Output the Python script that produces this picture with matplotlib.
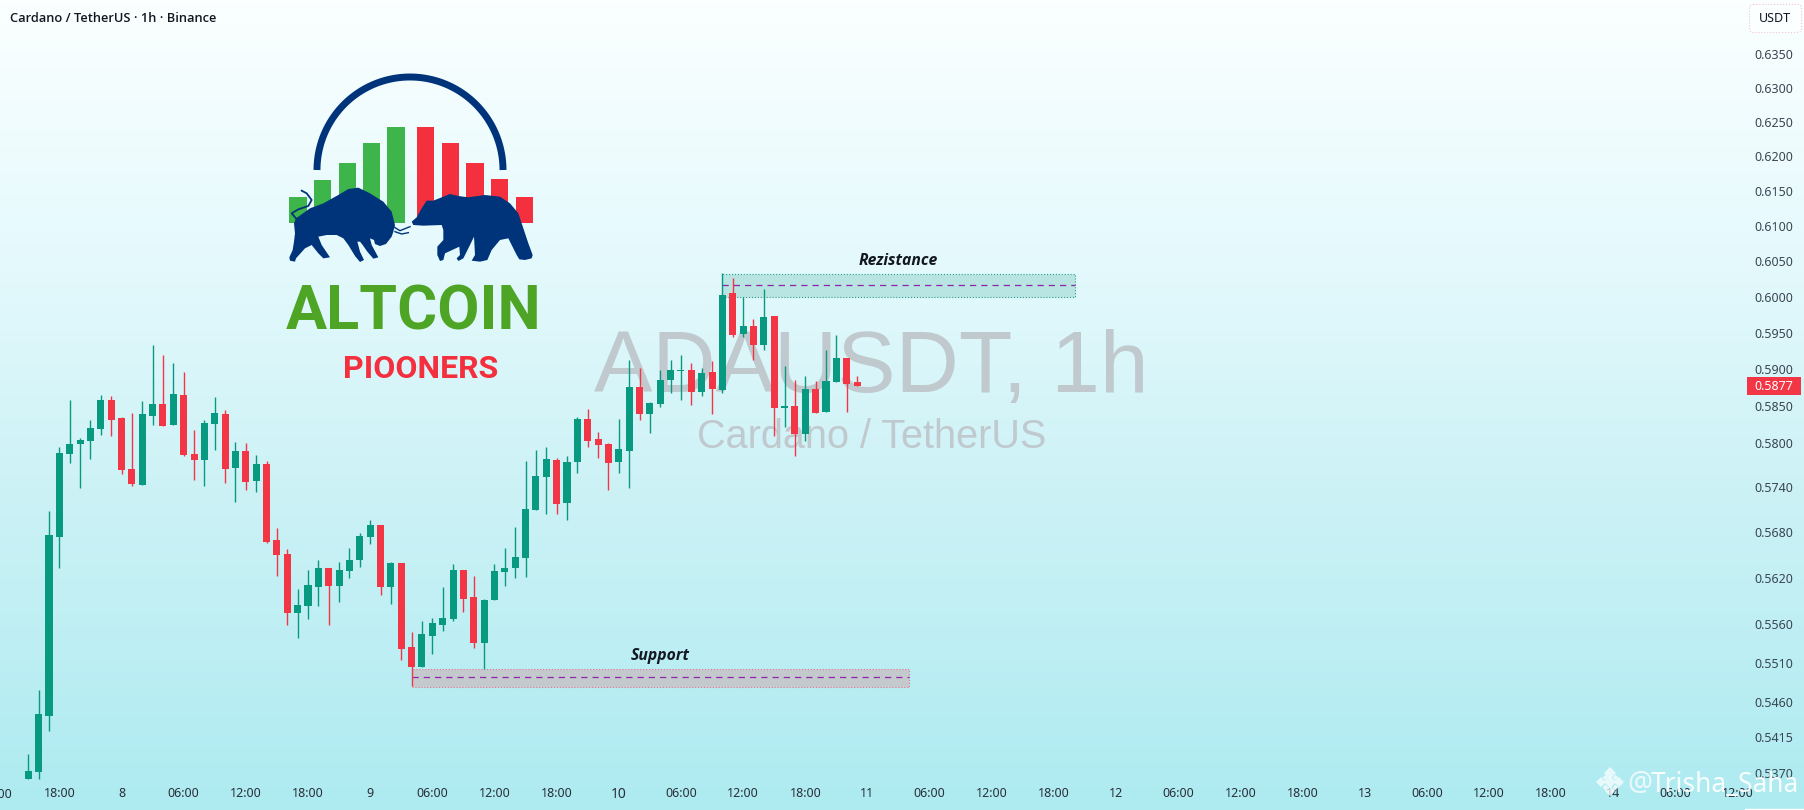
import numpy as np
import matplotlib
matplotlib.use("Agg")
import matplotlib.pyplot as plt
from matplotlib.colors import LinearSegmentedColormap
from matplotlib.patches import Rectangle, Polygon, FancyBboxPatch
from matplotlib.ticker import NullLocator, NullFormatter

# ADAUSDT 1h candles
opens = [.5363, .5371, .5442, .5674, .5785, .5798, .5802, .5818, .5858, .5833,
         .5764, .5743, .5836, .5852, .5824, .5865, .5785, .5777, .5825, .5839,
         .5766, .5789, .5748, .5771, .5670, .5651, .5574, .5583, .5608, .5633,
         .5609, .5629, .5643, .5674, .5690, .5608, .5639, .5530, .5504, .5544,
         .5559, .5566, .5630, .5595, .5535, .5591, .5628, .5633, .5646, .5710,
         .5754, .5777, .5719, .5774, .5832, .5805, .5798, .5774, .5789, .5876,
         .5838, .5852, .5885, .5898, .5899, .5869, .5896, .5872, .6005, .5949,
         .5960, .5933, .5974, .5847, .5850, .5812, .5873, .5842, .5883, .5916, .5883]
highs = [.5394, .5475, .5708, .5794, .5858, .5806, .5831, .5865, .5863, .5835,
         .5840, .5857, .5933, .5920, .5909, .5896, .5817, .5831, .5862, .5844,
         .5801, .5799, .5783, .5775, .5686, .5658, .5605, .5630, .5643, .5633,
         .5641, .5659, .5679, .5696, .5690, .5641, .5639, .5549, .5564, .5568,
         .5608, .5638, .5630, .5622, .5592, .5638, .5659, .5687, .5775, .5790,
         .5794, .5779, .5782, .5835, .5846, .5814, .5799, .5832, .5913, .5902,
         .5855, .5899, .5913, .5920, .5909, .5902, .5911, .6033, .6026, .6000,
         .5970, .6011, .5974, .5905, .5885, .5891, .5884, .5927, .5947, .5916, .5891]
lows = [.5363, .5363, .5423, .5633, .5772, .5739, .5778, .5810, .5809, .5758,
        .5742, .5743, .5824, .5823, .5824, .5782, .5750, .5742, .5790, .5746,
        .5720, .5736, .5734, .5666, .5622, .5559, .5542, .5566, .5583, .5559,
        .5589, .5620, .5634, .5664, .5598, .5586, .5513, .5480, .5504, .5521,
        .5551, .5564, .5575, .5529, .5502, .5591, .5609, .5620, .5621, .5710,
        .5704, .5704, .5696, .5759, .5794, .5779, .5736, .5759, .5739, .5831,
        .5813, .5848, .5867, .5858, .5851, .5863, .5839, .5867, .5945, .5945,
        .5913, .5927, .5809, .5821, .5782, .5802, .5840, .5842, .5883, .5842, .5877]
closes = [.5373, .5444, .5676, .5786, .5798, .5804, .5820, .5858, .5831, .5763,
          .5744, .5838, .5852, .5823, .5866, .5783, .5777, .5827, .5840, .5764,
          .5789, .5747, .5771, .5667, .5650, .5574, .5585, .5611, .5633, .5609,
          .5630, .5643, .5675, .5690, .5608, .5639, .5528, .5504, .5547, .5561,
          .5568, .5630, .5592, .5535, .5591, .5629, .5633, .5647, .5711, .5755,
          .5778, .5718, .5774, .5832, .5802, .5797, .5772, .5791, .5876, .5839,
          .5854, .5885, .5899, .5899, .5869, .5895, .5873, .6003, .5947, .5960,
          .5933, .5972, .5847, .5850, .5812, .5873, .5840, .5884, .5916, .5880, .5877]

price_ticks = [0.6350, 0.6300, 0.6250, 0.6200, 0.6150, 0.6100, 0.6050, 0.6000, 0.5950, 0.5900,
               0.5850, 0.5800, 0.5740, 0.5680, 0.5620, 0.5560, 0.5510, 0.5460, 0.5415, 0.5370]
time_ticks = list(range(3, 166, 6))
time_labels = ["18:00", "8", "06:00", "12:00", "18:00", "9", "06:00", "12:00", "18:00", "10",
               "06:00", "12:00", "18:00", "11", "06:00", "12:00", "18:00", "12", "06:00", "12:00",
               "18:00", "13", "06:00", "12:00", "18:00", "14", "06:00", "12:00"]

# zones: start bar, end bar, bottom, top, middle line
resistance = (67, 101, 0.60003, 0.60325, 0.60171)
support = (37, 85, 0.5479, 0.5502, 0.5492)
last_price = 0.5877

GREEN = "#089981"
RED = "#F23645"
NAVY = "#00347A"
FONT = "Noto Sans"

fig = plt.figure(figsize=(18.04, 8.10), dpi=100)

# background gradient
bg = fig.add_axes([0, 0, 1, 1])
cmap = LinearSegmentedColormap.from_list(
    "tv_bg", [(0, "#FBFFFF"), (0.3, "#E6FAFD"), (0.6, "#CDF2F6"), (1, "#ADEBF1")])
bg.imshow(np.linspace(0, 1, 256).reshape(-1, 1), cmap=cmap, aspect="auto")
bg.axis("off")

# price chart
ax = fig.add_axes([0, 0, 1, 1])
ax.patch.set_alpha(0)
for s in ax.spines.values():
    s.set_visible(False)
ax.set_yscale("log")
ax.set_xlim(-2.73, 171.4)
ax.set_ylim(0.5324, 0.6430)
ax.yaxis.set_minor_locator(NullLocator())
ax.yaxis.set_minor_formatter(NullFormatter())

ax.set_yticks(price_ticks, ["%.4f" % p for p in price_ticks])
ax.set_xticks(time_ticks, time_labels)
ax.tick_params(axis="y", length=0, right=False, left=False, labelleft=False, labelright=True,
               pad=-36, labelsize=9, labelcolor="#3B4652")
ax.tick_params(axis="x", length=0, pad=-16.5, labelsize=9, labelcolor="#2A2E39")
for lab in ax.get_xticklabels() + ax.get_yticklabels():
    lab.set_family(FONT)
for lab in ax.get_xticklabels():
    if lab.get_text() == "10":
        lab.set_fontweight("bold")
        lab.set_fontsize(10)

# label cut by the left edge, outside the view so no tick for it
ax.text(-3, 16 / 810, "12:00", transform=ax.get_xaxis_transform(), ha="center", va="center",
        family=FONT, fontsize=9, color="#2A2E39")

# big symbol watermark
ax.text(871 / 1804, 1 - 392 / 810, "ADAUSDT, 1h", transform=ax.transAxes, ha="center", va="baseline",
        family="Liberation Sans", fontsize=63, color="#C0C9CD", zorder=1)
ax.text(872 / 1804, 1 - 448 / 810, "Cardano / TetherUS", transform=ax.transAxes, ha="center", va="baseline",
        family="Liberation Sans", fontsize=28.5, color="#C0C9CD", zorder=1)

# resistance and support zones
for zone, fill, edge in [(resistance, "#B8E4E2", "#2A9D8F"), (support, "#C4C9CE", "#F0708A")]:
    x0, x1, low, high, mid = zone
    ax.add_patch(Rectangle((x0, low), x1 - x0, high - low, facecolor=fill, edgecolor=edge,
                           linewidth=0.8, linestyle=":", zorder=2))
    ax.hlines(mid, x0, x1, color="#8E24AA", linewidth=0.9, linestyle=(0, (5, 4)), zorder=2)
ax.text(84, 0.6050, "Rezistance", ha="center", va="center", family="Open Sans", style="italic",
        fontweight="bold", fontsize=11.3, color="#131722", zorder=5)
ax.text(61, 0.5518, "Support", ha="center", va="center", family="Open Sans", style="italic",
        fontweight="bold", fontsize=11.3, color="#131722", zorder=5)

# candles
xs = np.arange(len(opens))
o = np.array(opens)
c = np.array(closes)
colors = [GREEN if cl >= op else RED for op, cl in zip(opens, closes)]
ax.vlines(xs, lows, highs, colors=colors, linewidth=1.0, zorder=3)
ax.bar(xs, np.abs(c - o), bottom=np.minimum(o, c), width=0.68, color=colors, linewidth=0, zorder=4)

# everything below is placed in picture pixels
top = fig.add_axes([0, 0, 1, 1])
top.patch.set_alpha(0)
top.axis("off")
top.set_xlim(0, 1804)
top.set_ylim(810, 0)

top.text(10, 18, "Cardano / TetherUS · 1h · Binance", ha="left", va="center", family="Open Sans",
         fontweight="semibold", fontsize=9.3, color="#131722")

# USDT button and last price tag
top.add_patch(FancyBboxPatch((1752, 7), 47, 23, boxstyle="round,pad=2.5,rounding_size=4",
                             facecolor="#FBFFFF", edgecolor="#F5C5CE", linewidth=0.8, linestyle=":"))
top.text(1775, 18.5, "USDT", ha="center", va="center", family=FONT, fontsize=9, color="#131722")
top.add_patch(Rectangle((1747, 377), 54, 18, facecolor=RED, edgecolor="none"))
top.text(1774, 387, "%.4f" % last_price, ha="center", va="center", family=FONT, fontweight="bold",
         fontsize=9, color="white")

# logo: arc, bars, bull, bear, name
theta = np.linspace(np.pi, 0, 100)
top.plot(410 + 93 * np.cos(theta), 170 - 93 * np.sin(theta), color=NAVY, linewidth=5, solid_capstyle="butt")

bar_spans = [(58, 110, 410), (132, 184, 360), (206, 258, 308), (279, 331, 250), (352, 405, 200),
             (441, 493, 200), (515, 567, 250), (589, 641, 308), (663, 715, 358), (737, 789, 410)]
for k, (a, b, t) in enumerate(bar_spans):
    top.add_patch(Rectangle((270 + a / 3, 60 + t / 3), (b - a) / 3, (490 - t) / 3,
                            facecolor="#3DB54A" if k < 5 else "#F42F3E", edgecolor="none"))

bull = np.array([(48, 145), (90, 115), (130, 100), (175, 75), (205, 57), (235, 53), (270, 70), (310, 95),
                 (335, 125), (345, 165), (340, 185), (335, 200), (318, 222), (300, 228), (285, 222),
                 (282, 210), (270, 205), (275, 225), (295, 262), (280, 266), (262, 245), (248, 225),
                 (240, 215), (232, 215), (240, 245), (252, 270), (240, 276), (225, 258), (205, 225),
                 (190, 205), (170, 195), (140, 195), (115, 200), (125, 225), (150, 262), (130, 265),
                 (115, 250), (95, 225), (75, 235), (48, 265), (45, 275), (30, 272), (28, 262),
                 (38, 240), (42, 215), (45, 190), (42, 160)], dtype=float)
top.add_patch(Polygon(np.c_[280 + bull[:, 0] / 3, 170 + bull[:, 1] / 3], facecolor=NAVY, edgecolor="none"))
tail = np.array([(48, 145), (35, 130), (55, 118), (85, 108), (95, 90), (80, 70), (65, 62)], dtype=float)
top.plot(280 + tail[:, 0] / 3, 170 + tail[:, 1] / 3, color=NAVY, linewidth=1.3)
for horn in [[(340, 170), (360, 182), (390, 170)], [(345, 185), (365, 192), (385, 188)]]:
    h = np.array(horn, dtype=float)
    top.plot(280 + h[:, 0] / 3, 170 + h[:, 1] / 3, color=NAVY, linewidth=1.0)

bear = np.array([(35, 125), (50, 112), (65, 85), (80, 62), (100, 62), (130, 50), (150, 42), (175, 48),
                 (205, 52), (255, 45), (300, 50), (330, 70), (355, 100), (370, 145), (385, 190),
                 (398, 225), (395, 235), (375, 240), (358, 238), (350, 225), (325, 175), (300, 180),
                 (275, 210), (262, 240), (240, 245), (215, 242), (225, 225), (222, 170), (210, 195),
                 (190, 235), (175, 243), (170, 235), (180, 225), (178, 200), (135, 220), (130, 240),
                 (120, 243), (112, 225), (112, 200), (130, 180), (130, 150), (125, 135), (70, 137),
                 (40, 135)], dtype=float)
top.add_patch(Polygon(np.c_[400 + bear[:, 0] / 3, 180 + bear[:, 1] / 3], facecolor=NAVY, edgecolor="none"))

top.text(413.5, 329, "ALTCOIN", ha="center", va="baseline", family="Roboto", fontweight="bold",
         fontsize=44, color="#4EA525")
top.text(421, 378, "PIOONERS", ha="center", va="baseline", family="Roboto", fontweight="bold",
         fontsize=23, color="#F42F3E")

# site watermark bottom right
for dx, dy, size in [(0, 0, 6), (0, -9, 6), (0, 9, 5), (-9, 0, 5), (9, 0, 5), (-5, -5, 3), (5, -5, 3), (-5, 5, 3), (5, 5, 3)]:
    top.plot(1610 + dx, 782 + dy, marker="D", markersize=size, color="white", alpha=0.7, markeredgewidth=0)
top.text(1640, 784, "@", ha="center", va="center", family=FONT, fontsize=20, color="white", alpha=0.75)
top.text(1725, 785, "Trisha_Saha", ha="center", va="center", family=FONT, fontsize=19, color="white", alpha=0.92)
top.plot([1745, 1804], [809, 809], color="white", linewidth=1)

fig.savefig("out.png", dpi=100)
